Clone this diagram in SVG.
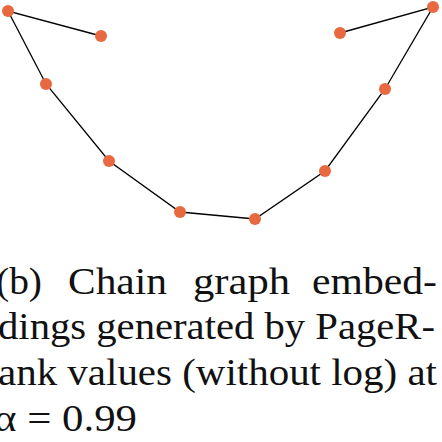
<svg xmlns="http://www.w3.org/2000/svg" width="442" height="442" viewBox="0 0 442 442">
<style>
.e{stroke:#000;stroke-width:1.3;fill:none}
.n{fill:#E8693F}
text{font-family:"Liberation Serif","Times New Roman","DejaVu Serif",serif;font-size:38px;fill:#111}
</style>
<rect width="442" height="442" fill="#fff"/>
<g id="edges">
<polyline class="e" points="101,36 8,11 46,84 109,161 180,212 255,219 325,171 385,89 433,7 340,33"/>
</g>
<g id="n1"><circle class="n" cx="101" cy="36" r="6"/></g>
<g id="n2"><circle class="n" cx="8" cy="11" r="6"/></g>
<g id="n3"><circle class="n" cx="46" cy="84" r="6"/></g>
<g id="n4"><circle class="n" cx="109" cy="161" r="6"/></g>
<g id="n5"><circle class="n" cx="180" cy="212" r="6"/></g>
<g id="n6"><circle class="n" cx="255" cy="219" r="6"/></g>
<g id="n7"><circle class="n" cx="325" cy="171" r="6"/></g>
<g id="n8"><circle class="n" cx="385" cy="89" r="6"/></g>
<g id="n9"><circle class="n" cx="433" cy="7" r="6"/></g>
<g id="n10"><circle class="n" cx="340" cy="33" r="6"/></g>
<g id="caption">
<text x="-4" y="294" textLength="46" lengthAdjust="spacingAndGlyphs">(b)</text>
<text x="68" y="294" textLength="99" lengthAdjust="spacingAndGlyphs">Chain</text>
<text x="193" y="294" textLength="97" lengthAdjust="spacingAndGlyphs">graph</text>
<text x="312" y="294" textLength="125" lengthAdjust="spacingAndGlyphs">embed-</text>
<text x="-2" y="339" textLength="437" lengthAdjust="spacingAndGlyphs">dings generated by PageR-</text>
<text x="-2" y="385" textLength="439" lengthAdjust="spacingAndGlyphs">ank values (without log) at</text>
<text x="-6" y="431" textLength="143" lengthAdjust="spacingAndGlyphs">α = 0.99</text>
</g>
</svg>
